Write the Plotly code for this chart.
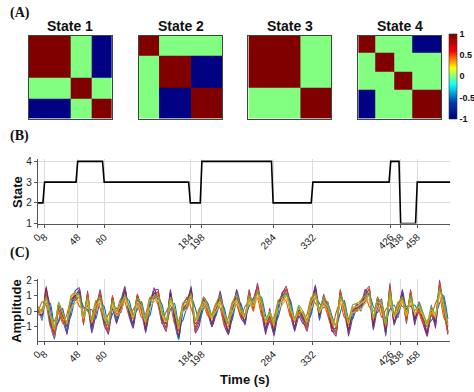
import plotly.graph_objects as go

W, H = 474, 392

# ---------------- data ----------------
state_names = ["State 1", "State 2", "State 3", "State 4"]
# block edges (fraction of node range) and block correlation values
state1_edges = [0, 0.502, 0.757, 1]
state1_z = [[1, 0, -1], [0, 1, 0], [-1, 0, 1]]
state2_edges = [0, 0.246, 0.622, 1]
state2_z = [[1, 0, 0], [0, 1, -1], [0, -1, 1]]
state3_edges = [0, 0.625, 1]
state3_z = [[1, 0], [0, 1]]
state4_edges = [0, 0.205, 0.429, 0.65, 1]
state4_z = [[1, 0, 0, -1], [0, 1, 0, 0], [0, 0, 1, 0], [-1, 0, 0, 1]]

state_times = [0, 6, 8, 46, 48, 78, 80, 182, 184, 196, 198, 282, 284, 330, 332, 424, 426, 436, 438, 456, 458, 498]
state_vals = [2, 2, 3, 3, 4, 4, 3, 3, 2, 2, 4, 4, 2, 2, 3, 3, 4, 4, 1, 1, 3, 3]

time_ticks = [0, 8, 48, 80, 184, 198, 284, 332, 426, 438, 458]

time_c = list(range(0, 500, 5))
sig_blue = [0.1, -0.4, 1.1, -0.8, -1.3, 0.5, -0.2, -1.3, 0.4, 1.0,
            1.3, -0.4, 0.8, -1.2, 0.5, 0.8, -0.8, -0.9, 0.6, -0.6,
            0.5, 1.4, -0.1, -0.9, 0.7, 0.4, -1.2, 0.4, 1.2, 0.9,
            -0.6, -0.8, 1.2, -0.4, -1.8, 0.0, 0.6, 1.5, -0.8, -0.5,
            0.5, 0.3, -0.9, 0.0, 1.1, -0.4, -1.4, 0.1, 1.2, 0.0,
            -0.7, 0.9, 0.4, 1.2, 0.6, -1.2, -0.1, -1.4, 0.2, 1.0,
            1.1, 0.2, -1.1, 0.3, -0.5, -0.8, 0.3, 1.5, -0.5, 0.6,
            0.4, -1.1, -1.1, 0.9, 0.4, -1.3, -0.1, 0.4, 0.2, 1.1,
            1.1, -1.0, 0.5, 0.5, -1.4, 1.2, -0.8, 0.0, 1.2, -0.3,
            0.9, -0.6, 0.4, -0.3, -1.4, 0.2, -0.8, 1.4, 0.5, -1.0]
sig_orange = [-0.1, 0.0, 1.0, -0.4, -1.6, 0.1, -0.6, -0.9, 0.8, 0.7,
              0.9, -0.8, 1.2, -0.8, 0.1, 1.2, -0.4, -1.3, 1.0, -0.2,
              0.1, 1.0, 0.3, -0.5, 1.1, 0.0, -0.8, 0.8, 0.8, 1.3,
              -0.2, -1.2, 0.8, 0.0, -1.3, 0.4, 0.2, 1.1, -1.2, -0.1,
              0.9, -0.1, -0.5, 0.4, 0.7, -0.8, -1.0, 0.5, 0.8, -0.4,
              -0.3, 1.3, 0.0, 1.6, 0.2, -0.8, -0.5, -1.0, 0.6, 0.6,
              1.5, -0.2, -0.7, -0.1, -0.1, -1.2, 0.7, 1.1, -0.1, 1.0,
              0.0, -0.7, -1.5, 1.3, 0.0, -0.9, 0.3, 0.0, 0.6, 0.7,
              1.5, -0.6, 0.9, 0.1, -1.0, 1.6, -0.4, 0.4, 0.8, -0.7,
              1.3, -0.2, 0.0, -0.7, -1.0, -0.2, -0.4, 1.8, 0.1, -1.4]
sig_yellow = [0.2, -0.1, 0.8, -0.3, -1.2, 0.5, -0.1, -0.8, 0.9, 1.1,
              0.8, -0.5, 0.7, -0.7, 0.4, 0.7, -0.5, -0.8, 0.5, -0.1,
              0.4, 0.9, 0.2, -0.4, 0.6, 0.3, -0.7, 0.7, 0.7, 0.9,
              -0.3, -0.7, 0.7, 0.1, -1.1, 0.3, 0.5, 1.0, -0.7, -0.2,
              0.6, 0.2, -0.5, 0.3, 0.6, -0.3, -0.9, 0.4, 0.7, -0.1,
              -0.4, 0.8, 0.3, 1.1, 0.5, -0.7, -0.2, -0.9, 0.5, 0.6,
              1.0, 0.1, -0.6, 0.2, -0.2, -0.7, 0.6, 1.0, -0.1, 0.6,
              0.3, -0.6, -1.0, 0.8, 0.3, -0.8, 0.2, 0.3, 0.5, 0.7,
              1.0, -0.5, 0.6, 0.4, -0.9, 1.1, -0.4, 0.3, 0.7, -0.3,
              0.8, -0.2, 0.3, -0.3, -0.9, 0.1, -0.4, 1.3, 0.4, -0.9]
sig_purple = [-0.1, -0.3, 1.6, -0.9, -1.8, 0.2, -0.6, -1.4, 0.5, 0.8,
              1.4, -0.9, 1.3, -1.3, 0.1, 1.2, -0.9, -1.4, 1.0, -0.7,
              0.1, 1.5, -0.1, -1.0, 1.1, 0.0, -1.3, 0.5, 1.3, 1.4,
              -0.7, -1.3, 1.3, -0.5, -1.7, 0.0, 0.3, 1.6, -1.3, -0.6,
              0.8, -0.1, -1.0, 0.0, 1.1, -0.9, -1.5, 0.2, 1.3, -0.4,
              -0.8, 1.4, 0.0, 1.8, 0.3, -1.3, -0.6, -1.5, 0.3, 1.1,
              1.6, -0.2, -1.2, 0.0, -0.6, -1.3, 0.4, 1.6, -0.6, 1.1,
              0.0, -1.2, -1.6, 1.4, 0.0, -1.4, 0.0, 0.0, 0.6, 1.2,
              1.6, -1.1, 0.9, 0.1, -1.5, 1.8, -0.9, 0.0, 1.3, -0.8,
              1.4, -0.7, 0.0, -0.8, -1.6, -0.2, -0.9, 2.0, 0.1, -1.5]
sig_green = [0.1, 0.1, 0.9, -0.2, -1.1, 0.6, -0.2, -0.7, 1.0, 1.2,
             1.0, -0.3, 0.9, -0.6, 0.6, 0.9, -0.3, -0.9, 0.7, 0.0,
             0.5, 1.0, 0.4, -0.3, 0.8, 0.5, -0.6, 0.9, 0.9, 1.0,
             0.0, -0.6, 0.9, 0.2, -1.0, 0.5, 0.6, 1.1, -0.6, 0.0,
             0.9, 0.4, -0.3, 0.5, 1.0, -0.2, -0.8, 0.6, 1.1, 0.1,
             -0.2, 1.0, 0.5, 1.3, 0.7, -0.6, 0.0, -0.8, 0.7, 0.9,
             1.2, 0.3, -0.5, 0.4, 0.0, -0.6, 0.8, 1.2, 0.1, 0.9,
             0.5, -0.5, -0.9, 1.0, 0.5, -0.7, 0.4, 0.5, 0.7, 1.0,
             1.2, -0.4, 0.8, 0.6, -0.8, 1.3, -0.2, 0.5, 0.9, -0.1,
             1.0, 0.0, 0.5, -0.1, -0.8, 0.3, -0.2, 1.5, 0.6, -0.8]
sig_cyan = [0.0, -0.5, 1.2, -0.7, -1.7, 0.2, -0.5, -1.2, 0.5, 0.7,
            1.2, -0.7, 1.0, -1.1, 0.2, 1.0, -0.7, -1.2, 0.7, -0.5,
            0.2, 1.2, 0.0, -0.8, 0.8, 0.1, -1.1, 0.5, 1.0, 1.1,
            -0.5, -1.1, 1.0, -0.3, -1.9, 0.1, 0.3, 1.3, -1.1, -0.4,
            0.6, 0.0, -0.8, 0.1, 0.8, -0.7, -1.3, 0.2, 0.9, -0.3,
            -0.6, 1.0, 0.1, 1.3, 0.3, -1.1, -0.4, -1.3, 0.3, 0.7,
            1.2, -0.1, -1.0, 0.0, -0.4, -1.1, 0.4, 1.2, -0.4, 0.7,
            0.1, -1.0, -1.4, 1.0, 0.1, -1.2, 0.0, 0.1, 0.3, 0.8,
            1.2, -0.9, 0.6, 0.2, -1.4, 1.3, -0.7, 0.1, 0.9, -0.6,
            1.0, -0.5, 0.1, -0.6, -1.3, -0.1, -0.7, 1.5, 0.2, -1.3]
sig_red = [-0.2, -0.2, 1.5, -0.5, -1.6, 0.4, -0.3, -1.0, 0.7, 1.0,
           1.2, -0.6, 1.1, -1.0, 0.4, 1.1, -0.6, -1.2, 0.9, -0.4,
           0.3, 1.3, 0.1, -0.8, 1.0, 0.2, -1.1, 0.7, 1.1, 1.2,
           -0.4, -1.1, 1.1, -0.2, -1.6, 0.2, 0.5, 1.4, -1.1, -0.3,
           0.7, 0.1, -0.8, 0.2, 1.0, -0.6, -1.3, 0.3, 1.1, -0.2,
           -0.6, 1.2, 0.2, 1.5, 0.4, -1.1, -0.3, -1.3, 0.5, 0.9,
           1.4, 0.0, -1.0, 0.1, -0.3, -1.1, 0.5, 1.4, -0.3, 0.9,
           0.2, -1.0, -1.4, 1.2, 0.2, -1.2, 0.1, 0.2, 0.4, 1.0,
           1.4, -0.9, 0.7, 0.3, -1.3, 1.5, -0.7, 0.2, 1.1, -0.6,
           1.2, -0.5, 0.2, -0.6, -1.4, 0.0, -0.7, 1.7, 0.3, -1.3]
sig_blue_b = [0.2, 0.0, 0.5, 0.5, -1.0, -0.7, 0.0, -0.8, -0.3, 0.8,
              0.9, 0.3, 0.1, 0.1, -0.5, 0.6, 0.3, -0.9, -0.2, 0.2,
              -0.1, 0.8, 0.7, -0.3, 0.1, 0.6, -0.4, -0.3, 0.8, 0.9,
              0.4, -0.8, 0.1, 0.5, -0.9, -0.6, 0.3, 0.9, 0.2, -0.7,
              0.2, 0.5, -0.3, -0.3, 0.6, 0.2, -0.9, -0.5, 0.7, 0.5,
              -0.4, 0.3, 0.7, 0.8, 0.9, -0.3, -0.7, -0.8, -0.4, 0.6,
              1.0, 0.7, -0.5, -0.4, -0.1, -0.7, -0.2, 0.9, 0.5, 0.2,
              0.5, -0.3, -1.1, -0.1, 0.7, -0.5, -0.5, 0.2, 0.3, 0.6,
              1.1, 0.3, -0.1, 0.5, -0.5, 0.1, 0.4, -0.2, 0.6, 0.3,
              0.3, 0.4, -0.1, -0.2, -0.9, -0.6, -0.3, 0.5, 1.0, -0.5]
sig_orange_b = [-0.1, 0.6, 0.4, -1.0, -0.6, -0.1, -0.8, -0.2, 0.8, 1.0,
                0.3, 0.2, 0.0, -0.4, 0.7, 0.2, -0.8, -0.2, 0.2, 0.0,
                0.8, 0.6, -0.3, 0.1, 0.5, -0.4, -0.2, 0.8, 1.0, 0.4,
                -0.7, 0.0, 0.4, -0.8, -0.6, 0.3, 0.9, 0.2, -0.6, 0.2,
                0.4, -0.3, -0.2, 0.5, 0.2, -0.9, -0.4, 0.6, 0.4, -0.4,
                0.3, 0.6, 0.8, 0.9, -0.3, -0.6, -0.7, -0.4, 0.6, 1.0,
                0.6, -0.4, -0.4, -0.1, -0.6, -0.2, 0.9, 0.5, 0.2, 0.5,
                -0.3, -1.1, -0.1, 0.6, -0.4, -0.5, 0.2, 0.3, 0.6, 1.1,
                0.3, 0.0, 0.5, -0.4, 0.1, 0.4, -0.2, 0.6, 0.3, 0.3,
                0.4, -0.1, -0.1, -0.8, -0.6, -0.3, 0.5, 1.0, -0.4, -0.9]
sig_yellow_b = [-0.3, 0.2, 0.7, -0.2, -0.9, 0.0, -0.5, -0.6, 0.2, 0.5,
                0.7, -0.2, 0.5, -0.6, 0.0, 0.6, -0.2, -0.6, 0.3, -0.3,
                0.0, 0.7, 0.3, -0.5, 0.4, 0.0, -0.7, 0.2, 0.6, 0.7,
                -0.1, -0.6, 0.6, 0.0, -0.9, 0.0, 0.1, 0.8, -0.5, 0.0,
                0.3, -0.1, -0.4, 0.0, 0.5, -0.2, -0.7, 0.0, 0.6, 0.1,
                -0.2, 0.6, 0.0, 0.9, 0.2, -0.6, 0.0, -0.7, 0.1, 0.4,
                0.8, 0.2, -0.5, -0.1, 0.0, -0.6, 0.2, 0.8, 0.0, 0.4,
                0.0, -0.5, -0.8, 0.6, 0.0, -0.6, -0.1, 0.0, 0.1, 0.5,
                0.8, -0.4, 0.3, 0.0, -0.7, 0.8, -0.3, 0.0, 0.6, -0.2,
                0.6, -0.1, 0.0, -0.2, -0.7, -0.1, -0.3, 1.0, 0.0, -0.7]
sig_purple_b = [0.3, -0.6, 1.4, 0.2, -1.4, -0.6, 0.2, -1.5, 0.1, 1.3,
                1.5, -0.2, 0.4, -1.4, -0.2, 1.4, -0.3, -1.5, 0.2, -0.8,
                0.6, 1.6, -0.3, -1.1, 0.4, 0.6, -1.4, 0.1, 1.5, 0.7,
                -0.8, -0.7, 1.4, -0.7, -1.8, 0.5, 0.8, 1.2, -1.4, -0.9,
                0.9, 0.5, -1.0, -0.2, 1.3, -0.1, -1.5, -0.3, 1.4, 0.3,
                -0.9, 0.7, 0.8, 1.6, 0.0, -1.5, 0.2, -1.6, -0.1, 1.2,
                1.4, 0.5, -1.3, -0.3, -0.8, -0.9, 0.0, 1.7, 0.0, 0.4,
                0.6, -1.3, -1.2, 0.7, 0.6, -1.6, -0.4, 0.5, 0.0, 1.4,
                1.0, -1.2, 0.2, 0.8, -1.6, 1.0, -0.2, -0.4, 1.4, 0.1,
                0.7, -0.9, 0.6, -0.2, -1.6, 0.4, -1.1, 1.3, 0.8, -1.4]

signals = [sig_purple_b, sig_blue_b, sig_purple, sig_cyan, sig_orange_b, sig_blue,
           sig_red, sig_yellow_b, sig_orange, sig_yellow, sig_green]
sig_colors = ["#7E2F8E", "#0072BD", "#7E2F8E", "#4DBEEE", "#D95319", "#0072BD",
              "#A2142F", "#EDB120", "#D95319", "#EDB120", "#77AC30"]

# ---------------- layout helpers ----------------
def px_x(p):
    return p / W

def px_y(p):
    return 1 - p / H

FONT = "Liberation Sans, Arial, sans-serif"
SERIF = "Liberation Serif, Times New Roman, serif"

fig = go.Figure()

heat_dom_x = [(22, 106.7), (134, 218.3), (245, 329.3), (356.5, 440.7)]
heat_dom_y = (31.5, 116.5)
heat_data = [(state1_edges, state1_z), (state2_edges, state2_z),
             (state3_edges, state3_z), (state4_edges, state4_z)]

for i, (edges, z) in enumerate(heat_data):
    k = i + 1
    xa = "x" if k == 1 else f"x{k}"
    ya = "y" if k == 1 else f"y{k}"
    tr = go.Heatmap(x=edges, y=edges, z=z, zmin=-1, zmax=1, colorscale="Jet",
                    xaxis=xa, yaxis=ya, showscale=(k == 4), hoverinfo="skip")
    if k == 4:
        tr.colorbar = dict(x=px_x(448.3), xanchor="left", xpad=0, ypad=0,
                           y=px_y((29.3 + 116.7) / 2), yanchor="middle",
                           len=(116.7 - 29.3) / H, lenmode="fraction",
                           thickness=8, outlinewidth=0.6, outlinecolor="#333",
                           tickvals=[-1, -0.5, 0, 0.5, 1],
                           ticktext=["-1", "-0.5", "0", "0.5", "1"],
                           ticks="", ticklabelposition="outside",
                           tickfont=dict(family=FONT, size=9, color="#111", weight="bold"))
    fig.add_trace(tr)
    xd = heat_dom_x[i]
    axx = dict(domain=[px_x(xd[0]), px_x(xd[1])], range=[0, 1], showticklabels=False,
               ticks="", showgrid=False, zeroline=False, showline=True, mirror=True,
               linecolor="#3a4a3a", linewidth=1, anchor=ya)
    axy = dict(domain=[px_y(heat_dom_y[1]), px_y(heat_dom_y[0])], range=[1, 0],
               showticklabels=False, ticks="", showgrid=False, zeroline=False,
               showline=True, mirror=True, linecolor="#3a4a3a", linewidth=1, anchor=xa)
    fig.layout["xaxis" if k == 1 else f"xaxis{k}"] = axx
    fig.layout["yaxis" if k == 1 else f"yaxis{k}"] = axy
    fig.add_annotation(text="<b>%s</b>" % state_names[i], xref="paper", yref="paper",
                       x=px_x((xd[0] + xd[1]) / 2), y=px_y(21.5), xanchor="center",
                       yanchor="middle", showarrow=False,
                       font=dict(family=FONT, size=14, color="#111"))

# ---------------- panel B ----------------
fig.add_trace(go.Scatter(x=state_times, y=state_vals, mode="lines",
                         line=dict(color="black", width=1.6), xaxis="x5", yaxis="y5",
                         hoverinfo="skip", showlegend=False))

X0, X1 = 31.4, 450
common_x = dict(domain=[px_x(X0), px_x(X1)], range=[0, 498], tickmode="array",
                tickvals=time_ticks, ticktext=[str(t) for t in time_ticks],
                tickangle=-45, showgrid=True, gridcolor="#dcdcdc", gridwidth=1,
                zeroline=False, showline=True, linecolor="#555", linewidth=1,
                ticks="outside", ticklen=3, tickcolor="#555",
                tickfont=dict(family=FONT, size=10, color="#222"))

fig.layout.xaxis5 = dict(common_x, anchor="y5")
fig.layout.yaxis5 = dict(domain=[px_y(224.3), px_y(158.3)], range=[1, 4.1],
                         tickvals=[1, 2, 3, 4], showgrid=True, gridcolor="#dcdcdc",
                         zeroline=False, showline=True, linecolor="#555", linewidth=1,
                         ticks="outside", ticklen=3, tickcolor="#555",
                         tickfont=dict(family=FONT, size=10, color="#222"), anchor="x5")

# ---------------- panel C ----------------
for sig, col in zip(signals, sig_colors):
    fig.add_trace(go.Scatter(x=time_c, y=sig, mode="lines",
                             line=dict(color=col, width=1.1, shape="spline", smoothing=0.4),
                             xaxis="x6", yaxis="y6", hoverinfo="skip", showlegend=False))

fig.layout.xaxis6 = dict(common_x, anchor="y6")
fig.layout.yaxis6 = dict(domain=[px_y(344.3), px_y(281.4)], range=[-1.88, 2.05],
                         tickvals=[-1, 0, 1, 2], showgrid=False,
                         zeroline=False, showline=True, linecolor="#555", linewidth=1,
                         ticks="outside", ticklen=3, tickcolor="#555",
                         tickfont=dict(family=FONT, size=10, color="#222"), anchor="x6")

# ---------------- labels ----------------
for txt, yy in [("(A)", 8), ("(B)", 134), ("(C)", 255)]:
    fig.add_annotation(text="<b>%s</b>" % txt, xref="paper", yref="paper", x=px_x(1),
                       y=px_y(yy), xanchor="left", yanchor="middle", showarrow=False,
                       font=dict(family=SERIF, size=14, color="#111"))

fig.add_annotation(text="<b>State</b>", xref="paper", yref="paper", x=px_x(10),
                   y=px_y(192), textangle=-90, xanchor="center", yanchor="middle",
                   showarrow=False, font=dict(family=FONT, size=13, color="#111"))
fig.add_annotation(text="<b>Amplitude</b>", xref="paper", yref="paper", x=px_x(10),
                   y=px_y(314), textangle=-90, xanchor="center", yanchor="middle",
                   showarrow=False, font=dict(family=FONT, size=13, color="#111"))
fig.add_annotation(text="<b>Time (s)</b>", xref="paper", yref="paper", x=px_x(242),
                   y=px_y(384), xanchor="center", yanchor="middle",
                   showarrow=False, font=dict(family=FONT, size=13, color="#111"))

fig.update_layout(width=W, height=H, autosize=False, margin=dict(l=0, r=0, t=0, b=0),
                  paper_bgcolor="white", plot_bgcolor="white", showlegend=False)

fig.write_html("out.html", config={"displayModeBar": False},
               post_script="document.body.style.margin='0';document.body.style.padding='0';"
                           "document.body.style.overflow='hidden';")
